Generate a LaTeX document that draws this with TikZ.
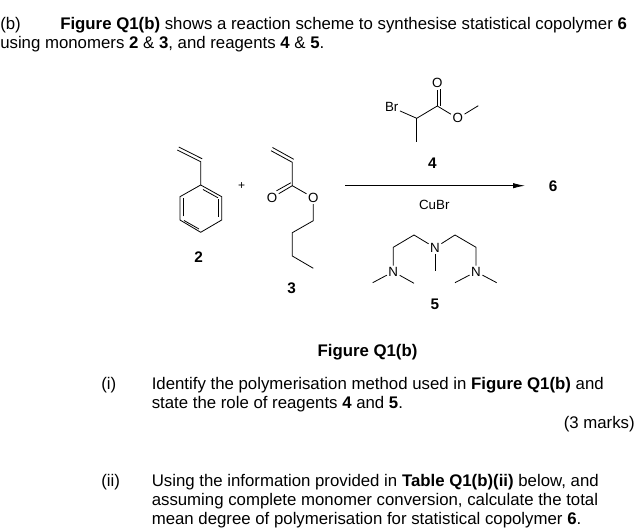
\documentclass[tikz,border=0pt]{standalone}
\usepackage{fontspec}
\setmainfont{Liberation Sans}
\usetikzlibrary{arrows.meta}
\tikzset{
  para/.style={anchor=base west,inner sep=0pt,font=\fontsize{12.6pt}{14pt}\selectfont},
  atom/.style={inner sep=1pt,font=\fontsize{10pt}{11pt}\selectfont},
  cpd/.style={inner sep=0pt,font=\fontsize{11.5pt}{13pt}\selectfont\bfseries},
  bond/.style={line width=0.6pt},
}
\begin{document}
\begin{tikzpicture}[x=0.75pt,y=0.75pt,yscale=-1,xscale=1]
\useasboundingbox (0,0) rectangle (644,531);
% Question text
\node (qb) [para] at (0,30) {(b)};
\node (qbtext) [para] at (60,30) {\textbf{Figure Q1(b)} shows a reaction scheme to synthesise statistical copolymer \textbf{6}};
\node (qbtextb) [para] at (0,49) {using monomers \textbf{2} \& \textbf{3}, and reagents \textbf{4} \& \textbf{5}.};
\node (caption) [para,anchor=base] at (367.5,357) {\textbf{Figure Q1(b)}};
\node (qi) [para] at (101,390) {(i)};
\node (qitext) [para] at (151.5,390) {Identify the polymerisation method used in \textbf{Figure Q1(b)} and};
\node (qitextb) [para] at (151.5,409) {state the role of reagents \textbf{4} and \textbf{5}.};
\node (marks) [para,anchor=base east] at (635,429) {(3 marks)};
\node (qii) [para] at (101,487) {(ii)};
\node (qiitext) [para] at (151.5,487) {Using the information provided in \textbf{Table Q1(b)(ii)} below, and};
\node (qiitextb) [para] at (151.5,506) {assuming complete monomer conversion, calculate the total};
\node (qiitextc) [para] at (151.5,525) {mean degree of polymerisation for statistical copolymer \textbf{6}.};

% Styrene
\coordinate (sa) at (177.3,150);
\coordinate (sb) at (200.7,161.7);
\coordinate (r1) at (200.7,185);
\coordinate (r2) at (221.7,196.7);
\coordinate (r3) at (221.7,220);
\coordinate (r4) at (200.7,232.3);
\coordinate (r5) at (180,220);
\coordinate (r6) at (180,196.7);
\draw [bond] (sa) -- (sb) -- (r1) -- (r2) -- (r3) -- (r4) -- (r5) -- (r6) -- (r1);
\draw [bond] (178.8,147) -- (202.2,158.8);
\draw [bond] (203,189.5) -- (218,197.8);
\draw [bond] (218,199.5) -- (218,217.5);
\draw [bond] (184,220.5) -- (199,229);
\draw [bond] (183.7,216.5) -- (183.7,198.5);
\node (styrene) [cpd] at (198.7,257.2) {2};
\node (plus) [atom,font=\fontsize{9pt}{10pt}\selectfont] at (241.7,185.7) {+};

% Butyl acrylate
\node (carbonylo) [atom] at (272,197.7) {O};
\node (ethero) [atom] at (313.3,197.7) {O};
\coordinate (aa) at (271,150.7);
\coordinate (ab) at (292.3,162.3);
\coordinate (ac) at (292.3,185.7);
\coordinate (ad) at (313.3,220.7);
\coordinate (ae) at (292.3,232.7);
\coordinate (af) at (292.3,256);
\coordinate (ag) at (313.3,268.3);
\draw [bond] (aa) -- (ab) -- (ac) -- (ethero) -- (ad) -- (ae) -- (af) -- (ag);
\draw [bond] (272.5,147.5) -- (293.8,159.3);
\draw [bond] (ac) -- (carbonylo);
\draw [bond] (290.8,182.8) -- (276.5,190.8);
\node (acrylate) [cpd] at (291.7,288.2) {3};

% Initiator
\node (bromine) [atom] at (391.7,107.3) {Br};
\node (ketoo) [atom] at (437.3,83.3) {O};
\node (estero) [atom] at (457.7,118.3) {O};
\coordinate (ia) at (416.7,118.3);
\coordinate (ib) at (416.7,141.7);
\coordinate (ic) at (437.3,106);
\coordinate (id) at (478.3,105.7);
\draw [bond] (bromine) -- (ia) -- (ic) -- (estero) -- (id);
\draw [bond] (ia) -- (ib);
\draw [bond] (ic) -- (ketoo);
\draw [bond] (440.3,106) -- (440.3,89.5);
\node (initiator) [cpd] at (432.3,163.2) {4};

% Reaction arrow
\coordinate (arrowstart) at (345,185.7);
\node (product) [cpd] at (553.2,186.2) {6};
\coordinate (arrowend) at (525,185.7);
\draw [line width=0.6pt,-{Latex[length=9pt,width=4pt]}] (arrowstart) -- (arrowend);
\node (copper) [atom] at (434.3,205) {CuBr};

% Ligand
\node (nmid) [atom] at (435,247.7) {N};
\node (nleft) [atom] at (393.3,271.7) {N};
\node (nright) [atom] at (476,271.7) {N};
\coordinate (la) at (414,235);
\coordinate (lb) at (393.3,247.3);
\coordinate (lc) at (372.7,282.7);
\coordinate (ld) at (414,283.3);
\coordinate (le) at (455,235);
\coordinate (lf) at (476,247.3);
\coordinate (lg) at (455,282.7);
\coordinate (lh) at (496.7,282.7);
\coordinate (li) at (435,271);
\draw [bond] (nmid) -- (la) -- (lb) -- (nleft) -- (lc);
\draw [bond] (nleft) -- (ld);
\draw [bond] (nmid) -- (le) -- (lf) -- (nright) -- (lg);
\draw [bond] (nright) -- (lh);
\draw [bond] (nmid) -- (li);
\node (ligand) [cpd] at (435,304.7) {5};
\end{tikzpicture}
\end{document}
